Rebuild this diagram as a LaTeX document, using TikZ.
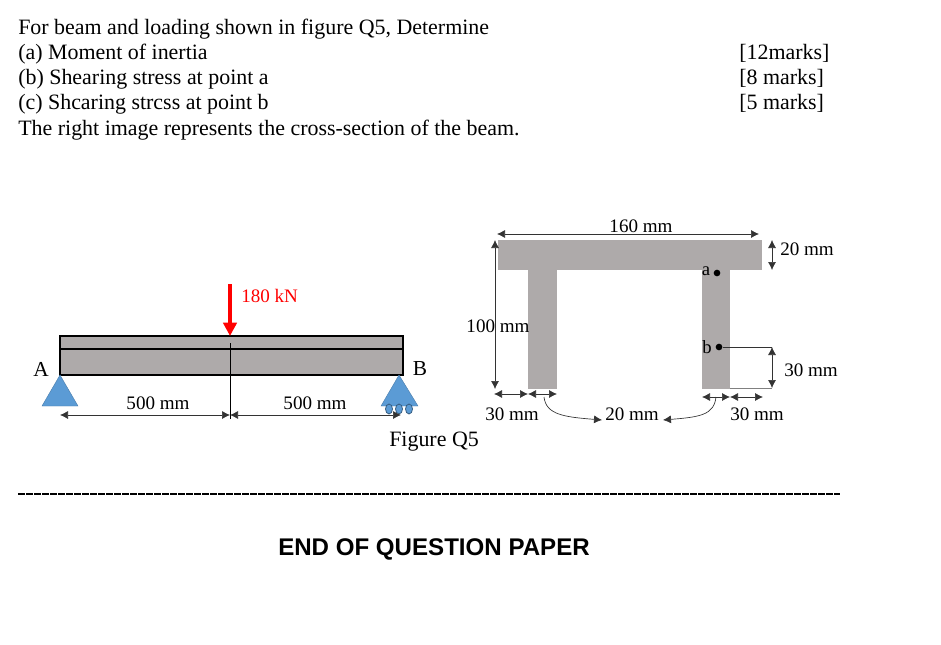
\documentclass[tikz,border=0pt]{standalone}
\usepackage{fontspec}
\setmainfont{Liberation Serif}
\setsansfont{Liberation Sans}
\usepackage{tikz}
\usetikzlibrary{arrows.meta}

\definecolor{beamgray}{RGB}{174,170,170}
\definecolor{supportblue}{RGB}{91,155,213}

\tikzset{
  headtext/.style={anchor=base west, inner sep=0pt, font=\fontsize{16.45}{18}\selectfont},
  dimtext/.style={inner sep=0pt, font=\fontsize{14.3}{16}\selectfont},
  dimline/.style={{Latex[length=6pt,width=6pt]}-{Latex[length=6pt,width=6pt]}, line width=0.5pt, black!80},
  leader/.style={-{Latex[length=6pt,width=6pt]}, line width=0.5pt, black!80},
  support/.style={fill=supportblue, draw=supportblue!80!black, line width=0.3pt},
  roller/.style={fill=supportblue, draw=supportblue!60!black, line width=0.6pt}
}

\begin{document}
\begin{tikzpicture}[x=0.75pt,y=-0.75pt]
\useasboundingbox (0,0) rectangle (941,645);

% Question text
\node[headtext] (q0) at (18,35) {For beam and loading shown in figure Q5, Determine};
\node[headtext] (q1) at (18,60) {(a) Moment of inertia};
\node[headtext] (q2) at (18,85) {(b) Shearing stress at point a};
\node[headtext] (q3) at (18,110) {(c) Shcaring strcss at point b};
\node[headtext] (q4) at (18,136) {The right image represents the cross-section of the beam.};
\node[headtext] (m1) at (739,60) {[12marks]};
\node[headtext] (m2) at (739,85) {[8 marks]};
\node[headtext] (m3) at (739,110) {[5 marks]};

% Beam
\fill[beamgray, draw=black, line width=0.8pt] (60,336) rectangle (403,375);
\draw[line width=0.8pt] (60,349) -- (403,349);
\coordinate (midtop) at (230,343);
\coordinate (midbot) at (230,419);
\draw[line width=0.4pt] (midtop) -- (midbot);

% Load
\coordinate (loadtop) at (230,284);
\coordinate (loadtip) at (230,336);
\draw[-{Triangle[length=10pt,width=10pt]}, red, line width=2.6pt] (loadtop) -- (loadtip);
\node[dimtext, red, anchor=west] (load) at (241,296) {180 kN};

% Supports
\fill[support] (60,375) -- (42,406) -- (78,406) -- cycle;
\fill[support] (399,375) -- (381,406) -- (418,406) -- cycle;
\foreach \x in {389,399,409} {
  \fill[roller] (\x,409) ellipse (3.5 and 5);
}
\node[dimtext, anchor=center, font=\fontsize{16}{18}\selectfont] (A) at (41,369) {A};
\node[dimtext, anchor=center, font=\fontsize{16}{18}\selectfont] (B) at (420,369) {B};

% Beam dimensions
\coordinate (dimA) at (60,415);
\coordinate (dimM) at (230,415);
\coordinate (dimB) at (401,415);
\draw[dimline] (dimA) -- (dimM);
\draw[dimline] (dimM) -- (dimB);
\node[dimtext] (left) at (158,403) {500 mm};
\node[dimtext] (right) at (315,403) {500 mm};
\node[headtext] (fig) at (389,446) {Figure Q5};

% Cross-section
\fill[beamgray] (498,240) rectangle (762,270);
\fill[beamgray] (528,270) rectangle (557,389);
\fill[beamgray] (702,270) rectangle (730,389);

% Section dimensions
\draw[dimline] (497,234) -- (759,234);
\draw[dimline] (495,240) -- (495,389);
\draw[dimline] (494,394) -- (528,394);
\draw[dimline] (528,394) -- (557,394);
\draw[dimline] (702,397) -- (730,397);
\draw[dimline] (730,397) -- (763,397);
\draw[dimline] (772,240) -- (772,270);
\draw[dimline] (772,347) -- (772,388);
\node[dimtext] (top) at (641,226) {160 mm};
\node[dimtext] (tall) at (498,326) {100 mm};
\node[dimtext] (flange) at (807,249) {20 mm};
\node[dimtext] (up) at (811,370) {30 mm};
\node[dimtext] (wl) at (512,414) {30 mm};
\node[dimtext] (wm) at (632,414) {20 mm};
\node[dimtext] (wr) at (757,414) {30 mm};

% Points a and b
\node[circle, fill=black, inner sep=0pt, minimum size=5pt] (pa) at (717,273) {};
\node[circle, fill=black, inner sep=0pt, minimum size=5pt] (pb) at (719,347) {};
\node[dimtext, anchor=center, font=\fontsize{14}{16}\selectfont] (la) at (706,271) {a};
\node[dimtext, anchor=center, font=\fontsize{14}{16}\selectfont] (lb) at (707,347) {b};
\draw[line width=0.5pt, black!80] (pb) -- (772,347);
\draw[line width=0.5pt, black!50] (730,388) -- (772,388);

% Curved leaders
\coordinate (tipl) at (602,420);
\coordinate (tipr) at (663,420);
\draw[leader] (544,397) .. controls (546,415) and (565,417) .. (tipl);
\draw[leader] (716,397) .. controls (714,415) and (700,417) .. (tipr);

% Footer
\draw[line width=1.4pt, dash pattern=on 4.9pt off 1.1pt] (18,494) -- (840,494);
\node[anchor=base west, inner sep=0pt, font=\sffamily\bfseries\fontsize{18.07}{20}\selectfont] (end) at (278,555) {END OF QUESTION PAPER};

\end{tikzpicture}
\end{document}
